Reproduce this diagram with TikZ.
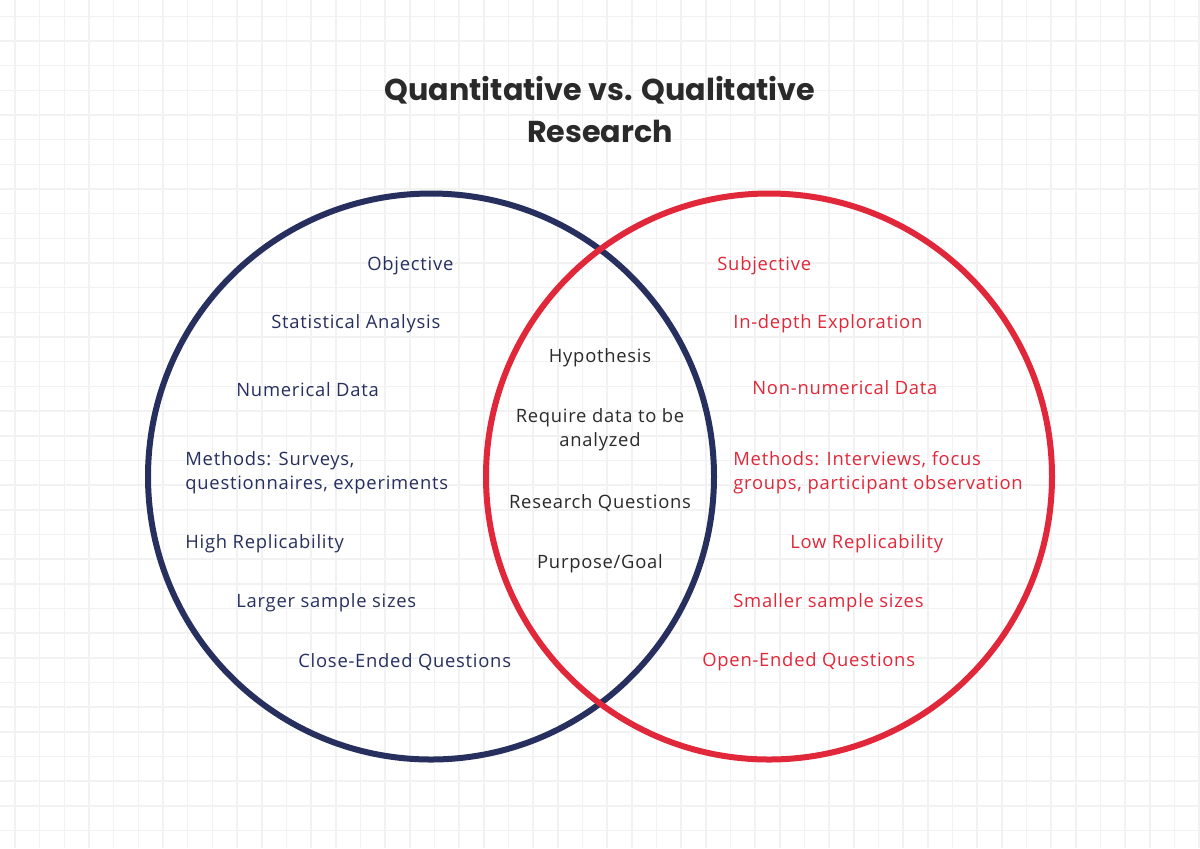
\documentclass[tikz,border=0pt]{standalone}
\usepackage{fontspec}
\setmainfont[LetterSpace=4]{Open Sans}
\newfontfamily\titlefont{Poppins}
\usetikzlibrary{positioning}
\definecolor{quant}{HTML}{262F5E}
\definecolor{qual}{HTML}{E0283A}
\definecolor{both}{HTML}{2A2A2A}
\definecolor{gridln}{HTML}{F2F2F2}
\tikzset{
  ring/.style    ={draw, line width=3pt},
  item/.style    ={font=\fontsize{9.2}{12}\selectfont, inner sep=0pt},
  quantitem/.style={item, text=quant, anchor=west, align=left},
  qualitem/.style ={item, text=qual, anchor=west, align=left},
  bothitem/.style ={item, text=both, align=center},
  heading/.style ={font=\titlefont\bfseries\fontsize{15.1}{21}\selectfont,
                   text=both, align=center},
}
\begin{document}
\begin{tikzpicture}[x=0.5pt, y=-0.5pt]
    % page and grid paper
    \useasboundingbox (0,0) rectangle (1200,848);
    \fill[white] (0,0) rectangle (1200,848);
    \foreach \i in {0,...,48}
      \draw[gridln, line width=0.8pt] ({15+24.67*\i},0) -- ({15+24.67*\i},848);
    \foreach \j in {0,...,34}
      \draw[gridln, line width=0.8pt] (0,{16.3+24.67*\j}) -- (1200,{16.3+24.67*\j});

    \node[heading] (T) at (600,110) {Quantitative vs. Qualitative\\Research};

    \node[ring, quant, circle, minimum size=283pt] (L) at (431,476.5) {};
    \node[ring, qual,  circle, minimum size=283pt] (R) at (769,476.5) {};

    % quantitative side
    \node[quantitem] (q1) at (367,266) {Objective};
    \node[quantitem] (q2) at (271,324) {Statistical Analysis};
    \node[quantitem] (q3) at (236,390) {Numerical Data};
    \node[quantitem] (q4) at (185,473) {Methods: Surveys,\\questionnaires, experiments};
    \node[quantitem] (q5) at (185,544) {High Replicability};
    \node[quantitem] (q6) at (236,603) {Larger sample sizes};
    \node[quantitem] (q7) at (298,662) {Close-Ended Questions};

    % overlap
    \node[bothitem] (b1) at (600,358) {Hypothesis};
    \node[bothitem] (b2) at (600,430) {Require data to be\\analyzed};
    \node[bothitem] (b3) at (600,503) {Research Questions};
    \node[bothitem] (b4) at (600,564) {Purpose/Goal};

    % qualitative side
    \node[qualitem] (p1) at (717,266) {Subjective};
    \node[qualitem] (p2) at (733,324) {In-depth Exploration};
    \node[qualitem] (p3) at (752,388) {Non-numerical Data};
    \node[qualitem] (p4) at (733,473) {Methods: Interviews, focus\\groups, participant observation};
    \node[qualitem] (p5) at (790,544) {Low Replicability};
    \node[qualitem] (p6) at (733,603) {Smaller sample sizes};
    \node[qualitem] (p7) at (702,662) {Open-Ended Questions};
\end{tikzpicture}
\end{document}
